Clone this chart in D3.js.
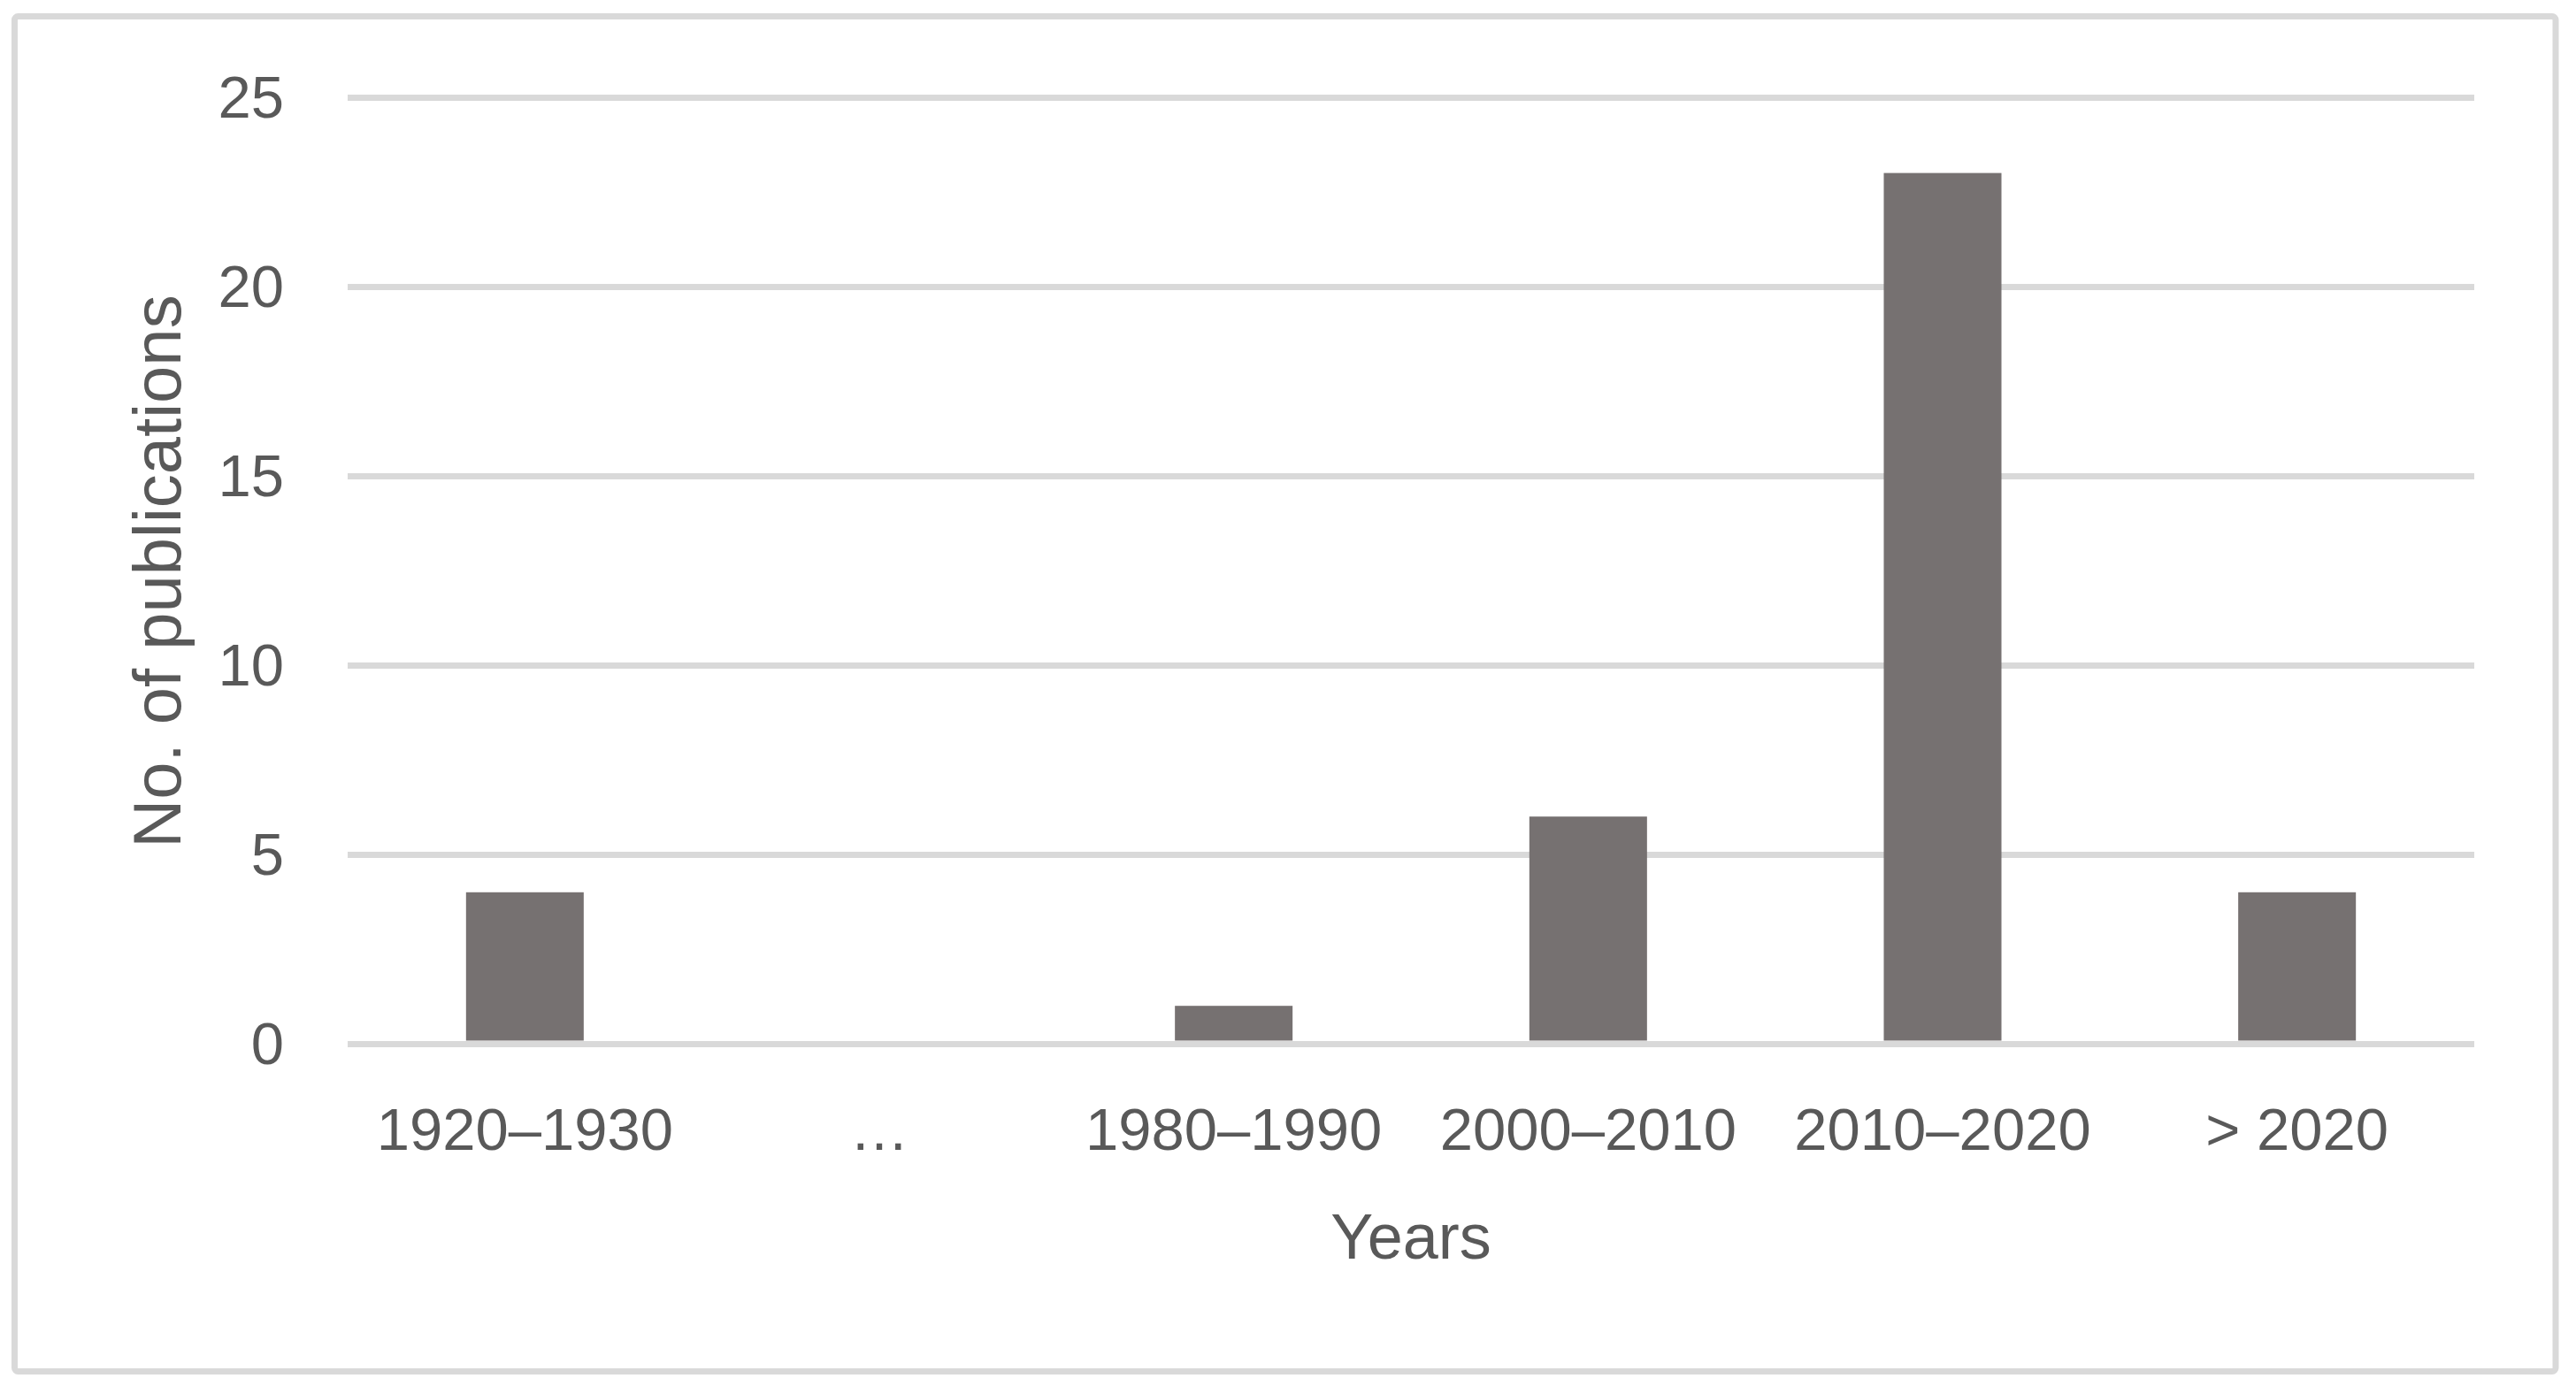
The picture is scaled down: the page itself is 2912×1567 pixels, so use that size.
<!DOCTYPE html>
<html>
<head>
<meta charset="utf-8">
<script src="https://cdn.jsdelivr.net/npm/d3@7"></script>
<style>
  html, body { margin: 0; padding: 0; background: #ffffff; }
  svg { display: block; }
</style>
</head>
<body>
<svg id="chart" width="2912" height="1567"></svg>
<script>
const categories = ["1920\u20131930", "\u2026", "1980\u20131990", "2000\u20132010", "2010\u20132020", "> 2020"];
const publications = [4, 0, 1, 6, 23, 4];
const yTicks = [0, 5, 10, 15, 20, 25];
const xTitle = "Years";
const yTitle = "No. of publications";

const svg = d3.select("#chart");
const W = 2912, H = 1567;
const plot = { left: 393, right: 2797, top: 110, bottom: 1180 };
const textColor = "#595959";
const font = "'Liberation Sans', Arial, sans-serif";

svg.append("rect").attr("width", W).attr("height", H).attr("fill", "#ffffff");

// outer chart border
svg.append("rect")
  .attr("x", 16.5).attr("y", 18.5)
  .attr("width", 2889 - 16.5).attr("height", 1550.5 - 18.5)
  .attr("rx", 4)
  .attr("fill", "none").attr("stroke", "#d9d9d9").attr("stroke-width", 7);

const gap = 0.668;
const x = d3.scaleBand()
  .domain(categories)
  .range([plot.left, plot.right])
  .paddingInner(gap)
  .paddingOuter(gap / 2);

const y = d3.scaleLinear().domain([0, 25]).range([plot.bottom, plot.top]);

// gridlines
const yAxis = d3.axisLeft(y).tickValues(yTicks).tickSize(-(plot.right - plot.left)).tickFormat(d3.format("d")).tickPadding(72);
const gy = svg.append("g").attr("transform", `translate(${plot.left},0)`).call(yAxis);
gy.select(".domain").remove();
gy.selectAll(".tick line").attr("stroke", "#d9d9d9").attr("stroke-width", 7);
gy.selectAll(".tick text")
  .attr("fill", textColor)
  .attr("font-family", font)
  .attr("font-size", 67)
  .attr("dy", null)
  .attr("dominant-baseline", "alphabetic")
  .attr("y", 22);

// bars
svg.append("g").selectAll("rect")
  .data(categories.map((c, i) => ({ c, v: publications[i] })).filter(d => d.v > 0))
  .join("rect")
  .attr("x", d => x(d.c))
  .attr("y", d => y(d.v))
  .attr("width", x.bandwidth())
  .attr("height", d => y(0) - y(d.v) - 3.5)
  .attr("fill", "#767171");

// x axis labels
const xAxis = d3.axisBottom(x).tickSize(0).tickPadding(0);
const gx = svg.append("g").attr("transform", `translate(0,${plot.bottom})`).call(xAxis);
gx.select(".domain").remove();
gx.selectAll(".tick text")
  .attr("fill", textColor)
  .attr("font-family", font)
  .attr("font-size", 67)
  .attr("dy", null)
  .attr("y", 120);

// axis titles
svg.append("text")
  .attr("x", (plot.left + plot.right) / 2)
  .attr("y", 1423)
  .attr("text-anchor", "middle")
  .attr("fill", textColor)
  .attr("font-family", font)
  .attr("font-size", 72)
  .text(xTitle);

svg.append("text")
  .attr("transform", `translate(204,646) rotate(-90)`)
  .attr("text-anchor", "middle")
  .attr("fill", textColor)
  .attr("font-family", font)
  .attr("font-size", 76)
  .text(yTitle);
</script>
</body>
</html>
